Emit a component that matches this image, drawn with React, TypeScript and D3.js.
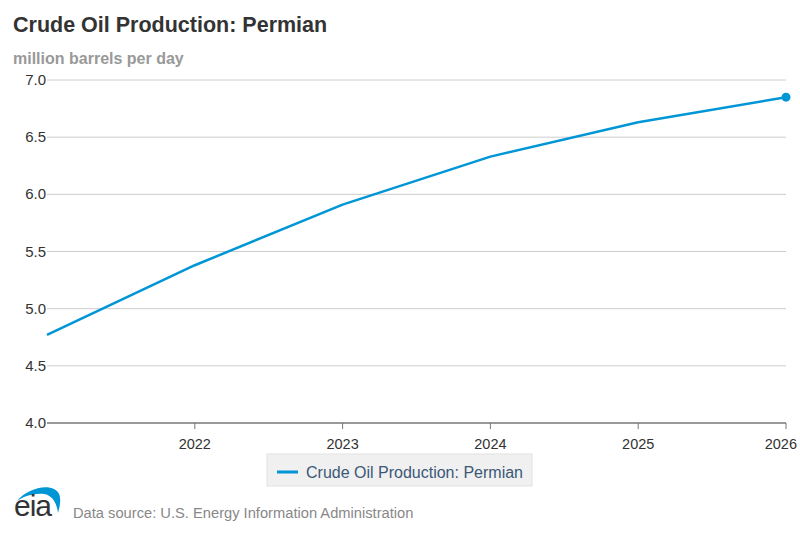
import * as d3 from 'd3';
import React, { useEffect, useRef } from 'react';

const years: number[] = [2021, 2022, 2023, 2024, 2025, 2026];
const production: number[] = [4.77, 5.38, 5.91, 6.33, 6.63, 6.85];
const yTicks: number[] = [4.0, 4.5, 5.0, 5.5, 6.0, 6.5, 7.0];
const xTicks: number[] = [2022, 2023, 2024, 2025, 2026];
const seriesName = 'Crude Oil Production: Permian';

const width = 800;
const height = 533;
const margin = { top: 80, right: 14, bottom: 110, left: 47 };
const font = '"Liberation Sans", Arial, sans-serif';
const blue = '#0096d6';

const App: React.FC = () => {
  const ref = useRef<SVGSVGElement>(null);
  useEffect(() => {
    const svg = d3.select(ref.current);
    svg.selectAll('*').remove();

    const x = d3.scaleLinear().domain([2021, 2026]).range([margin.left, width - margin.right]);
    const y = d3.scaleLinear().domain([4, 7]).range([height - margin.bottom, margin.top]);

    svg.append('text').attr('x', 13).attr('y', 32).attr('font-family', font).attr('font-size', 21.5)
      .attr('font-weight', 'bold').attr('fill', '#333').text(seriesName);
    svg.append('text').attr('x', 13).attr('y', 64).attr('font-family', font).attr('font-size', 16)
      .attr('font-weight', 'bold').attr('fill', '#999').text('million barrels per day');

    // grid + y labels
    const yg = svg.append('g');
    yTicks.forEach((t) => {
      if (t > 4) {
        yg.append('line').attr('x1', margin.left).attr('x2', width - margin.right)
          .attr('y1', y(t)).attr('y2', y(t)).attr('stroke', '#ccc').attr('stroke-width', 1);
      }
      yg.append('text').attr('x', margin.left - 1).attr('y', y(t) + 5).attr('text-anchor', 'end')
        .attr('font-family', font).attr('font-size', 15).attr('fill', '#333').text(t.toFixed(1));
    });

    // x axis
    const xg = svg.append('g').attr('transform', `translate(0,${y(4)})`);
    xg.append('line').attr('x1', margin.left).attr('x2', width - margin.right)
      .attr('stroke', '#777').attr('stroke-width', 1.5);
    xTicks.forEach((t, i) => {
      const isLast = i === xTicks.length - 1;
      xg.append('line').attr('x1', x(t)).attr('x2', x(t)).attr('y1', 0).attr('y2', 6).attr('stroke', '#777');
      xg.append('text').attr('x', isLast ? width - 3 : x(t)).attr('y', 26)
        .attr('text-anchor', isLast ? 'end' : 'middle')
        .attr('font-family', font).attr('font-size', 14.5).attr('fill', '#333').text(String(t));
    });

    const pts = years.map((yr, i) => [yr, production[i]] as [number, number]);
    const line = d3.line<[number, number]>().x((d) => x(d[0])).y((d) => y(d[1]));
    svg.append('path').datum(pts).attr('fill', 'none').attr('stroke', blue).attr('stroke-width', 2.5)
      .attr('stroke-linejoin', 'round').attr('d', line);
    const last = pts[pts.length - 1];
    svg.append('circle').attr('cx', x(last[0])).attr('cy', y(last[1])).attr('r', 4.5).attr('fill', blue);

    // legend
    const lg = svg.append('g').attr('transform', 'translate(267,454)');
    lg.append('rect').attr('width', 265).attr('height', 32).attr('fill', '#f0f0f0').attr('stroke', '#e2e2e2');
    lg.append('line').attr('x1', 10).attr('x2', 31).attr('y1', 18).attr('y2', 18)
      .attr('stroke', blue).attr('stroke-width', 3);
    lg.append('text').attr('x', 39).attr('y', 23.5).attr('font-family', font).attr('font-size', 16)
      .attr('fill', '#3b5878').text(seriesName);

    // eia logo + source
    const logo = svg.append('g').attr('transform', 'translate(14,486)');
    logo.append('path')
      .attr('d', 'M3,15 C12,4 30,-2 40,3 C48,7 47,16 44,27 C43,17 38,9 30,8 C20,7 10,10 3,15 Z')
      .attr('fill', blue);
    logo.append('text').attr('x', 0).attr('y', 30).attr('font-family', font).attr('font-size', 30)
      .attr('fill', '#333').attr('letter-spacing', -1).text('eia');
    svg.append('text').attr('x', 73).attr('y', 518).attr('font-family', font).attr('font-size', 14.7)
      .attr('fill', '#888').text('Data source: U.S. Energy Information Administration');
  }, []);
  return (
    <svg ref={ref} width={width} height={height}
      style={{ position: 'absolute', left: 0, top: 0, background: '#fff' }}></svg>
  );
};

export default App;
